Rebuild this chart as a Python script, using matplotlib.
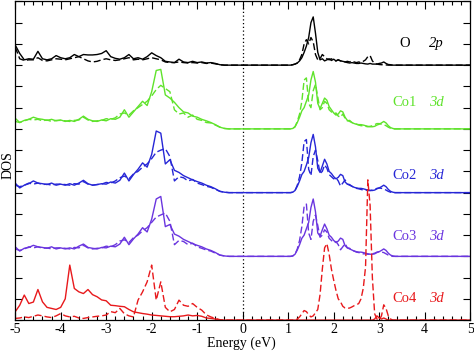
import numpy as np
import matplotlib
matplotlib.use("Agg")
import matplotlib.pyplot as plt

plt.rcParams['font.family'] = ['Liberation Serif', 'DejaVu Serif']

# energy grids (eV): valence band on 0.1 steps, conduction band on 0.05 steps
e_vb = np.round(np.arange(-5.0, -0.25, 0.1), 2)
e_cb = np.round(np.arange(1.0, 3.51, 0.05), 2)

# O 2p (offset 12)
o_solid_vb = [0.95, 0.55, 0.25, 0.30, 0.28, 0.65, 0.30, 0.25, 0.30, 0.45,
              0.35, 0.30, 0.35, 0.50, 0.40, 0.50, 0.48, 0.48, 0.50, 0.55,
              0.68, 0.40, 0.32, 0.28, 0.35, 0.50, 0.30, 0.35, 0.28, 0.40,
              0.58, 0.45, 0.35, 0.18, 0.15, 0.12, 0.28, 0.15, 0.12, 0.18,
              0.12, 0.15, 0.10, 0.12, 0.08, 0.02, 0.00, 0.00]
o_dash_vb = [0.85, 0.30, 0.22, 0.25, 0.25, 0.35, 0.22, 0.20, 0.25, 0.30,
             0.28, 0.25, 0.30, 0.35, 0.40, 0.30, 0.20, 0.15, 0.18, 0.25,
             0.30, 0.25, 0.22, 0.25, 0.30, 0.35, 0.25, 0.28, 0.25, 0.30,
             0.35, 0.30, 0.25, 0.15, 0.12, 0.12, 0.15, 0.12, 0.10, 0.12,
             0.10, 0.12, 0.08, 0.10, 0.06, 0.02, 0.00, 0.00]
o_solid_cb = [0.00, 0.00, 0.02, 0.05, 0.10, 0.20, 0.35, 0.60, 0.90, 1.30,
              2.00, 2.27, 1.50, 0.60, 0.25, 0.30, 0.20, 0.25, 0.30, 0.22,
              0.28, 0.20, 0.25, 0.20, 0.18, 0.15, 0.12, 0.10, 0.12, 0.10,
              0.08, 0.08, 0.10, 0.08, 0.06, 0.05, 0.08, 0.05, 0.05, 0.05,
              0.08, 0.10, 0.15, 0.08, 0.03, 0.02, 0.00, 0.00, 0.00, 0.00,
              0.00]
o_dash_cb = [0.00, 0.00, 0.02, 0.05, 0.10, 0.25, 0.50, 1.00, 1.20, 1.00,
             1.30, 1.10, 0.50, 0.25, 0.30, 0.50, 0.40, 0.30, 0.25, 0.30,
             0.22, 0.20, 0.25, 0.20, 0.22, 0.15, 0.18, 0.15, 0.20, 0.15,
             0.12, 0.15, 0.12, 0.18, 0.25, 0.40, 0.45, 0.20, 0.08, 0.05,
             0.03, 0.02, 0.02, 0.01, 0.00, 0.00, 0.00, 0.00, 0.00, 0.00,
             0.00]

# Co1 3d (offset 9)
co1_solid_vb = [0.50, 0.30, 0.40, 0.45, 0.55, 0.48, 0.45, 0.40, 0.45, 0.38,
                0.42, 0.35, 0.40, 0.35, 0.45, 0.60, 0.45, 0.38, 0.35, 0.42,
                0.38, 0.48, 0.45, 0.55, 0.90, 0.55, 0.80, 1.05, 1.30, 1.10,
                1.75, 2.75, 2.80, 1.60, 1.45, 1.25, 1.00, 0.80, 0.75, 0.60,
                0.55, 0.45, 0.38, 0.30, 0.20, 0.08, 0.02, 0.00]
co1_dash_vb = [0.35, 0.30, 0.38, 0.45, 0.42, 0.45, 0.38, 0.42, 0.35, 0.40,
               0.40, 0.38, 0.35, 0.40, 0.42, 0.55, 0.42, 0.35, 0.38, 0.40,
               0.48, 0.45, 0.52, 0.70, 0.75, 0.65, 0.85, 1.00, 1.15, 1.30,
               1.55, 1.85, 2.05, 1.90, 1.75, 0.90, 0.70, 0.75, 0.55, 0.65,
               0.45, 0.40, 0.30, 0.28, 0.18, 0.08, 0.02, 0.00]
co1_solid_cb = [0.00, 0.00, 0.02, 0.10, 0.30, 0.55, 0.85, 1.00, 1.30, 1.60,
                2.30, 2.70, 2.20, 1.20, 0.95, 1.20, 1.45, 1.35, 1.05, 0.90,
                0.75, 0.65, 0.70, 0.85, 0.80, 0.55, 0.40, 0.35, 0.30, 0.25,
                0.22, 0.20, 0.20, 0.18, 0.15, 0.12, 0.10, 0.10, 0.12, 0.18,
                0.22, 0.28, 0.35, 0.28, 0.15, 0.06, 0.02, 0.00, 0.00, 0.00,
                0.00]
co1_dash_cb = [0.00, 0.00, 0.02, 0.10, 0.35, 0.70, 1.30, 2.30, 2.40, 1.20,
               1.00, 1.80, 2.10, 1.50, 0.90, 1.00, 1.30, 1.20, 0.90, 0.80,
               0.70, 0.75, 0.60, 0.55, 0.70, 0.50, 0.38, 0.40, 0.30, 0.25,
               0.22, 0.18, 0.15, 0.15, 0.12, 0.10, 0.12, 0.15, 0.20, 0.25,
               0.25, 0.22, 0.20, 0.15, 0.08, 0.03, 0.00, 0.00, 0.00, 0.00,
               0.00]

# Co2 3d (offset 6)
co2_solid_vb = [0.45, 0.22, 0.35, 0.42, 0.55, 0.45, 0.42, 0.38, 0.45, 0.35,
                0.40, 0.35, 0.42, 0.35, 0.45, 0.58, 0.42, 0.35, 0.38, 0.42,
                0.40, 0.50, 0.45, 0.58, 0.92, 0.55, 0.85, 1.10, 1.40, 1.20,
                1.80, 2.90, 2.80, 1.35, 1.55, 1.05, 0.95, 0.80, 0.70, 0.60,
                0.52, 0.45, 0.35, 0.28, 0.18, 0.06, 0.02, 0.00]
co2_dash_vb = [0.35, 0.28, 0.35, 0.45, 0.40, 0.45, 0.38, 0.40, 0.35, 0.40,
               0.40, 0.38, 0.35, 0.42, 0.40, 0.52, 0.40, 0.35, 0.38, 0.40,
               0.48, 0.45, 0.55, 0.70, 0.78, 0.65, 0.88, 1.00, 1.20, 1.35,
               1.60, 1.90, 2.00, 2.07, 1.70, 0.55, 0.75, 0.70, 0.55, 0.62,
               0.45, 0.38, 0.30, 0.25, 0.15, 0.06, 0.02, 0.00]
co2_solid_cb = [0.00, 0.00, 0.02, 0.10, 0.30, 0.55, 0.85, 1.00, 1.30, 1.65,
                2.35, 2.74, 2.15, 1.15, 0.95, 1.25, 1.57, 1.35, 1.00, 0.90,
                0.75, 0.65, 0.72, 0.86, 0.80, 0.50, 0.40, 0.35, 0.30, 0.25,
                0.22, 0.20, 0.20, 0.18, 0.15, 0.12, 0.10, 0.10, 0.12, 0.18,
                0.22, 0.28, 0.35, 0.28, 0.15, 0.06, 0.02, 0.00, 0.00, 0.00,
                0.00]
co2_dash_cb = [0.00, 0.00, 0.02, 0.10, 0.35, 0.75, 1.40, 2.40, 2.50, 1.10,
               0.80, 1.70, 2.00, 1.50, 0.90, 1.00, 1.30, 1.15, 0.85, 0.75,
               0.65, 0.70, 0.55, 0.31, 0.45, 0.60, 0.40, 0.38, 0.30, 0.25,
               0.20, 0.18, 0.15, 0.12, 0.12, 0.10, 0.10, 0.12, 0.15, 0.20,
               0.22, 0.20, 0.18, 0.12, 0.06, 0.02, 0.00, 0.00, 0.00, 0.00,
               0.00]

# Co3 3d (offset 3)
co3_solid_vb = [0.45, 0.25, 0.38, 0.42, 0.52, 0.45, 0.42, 0.38, 0.45, 0.35,
                0.40, 0.35, 0.40, 0.35, 0.48, 0.58, 0.42, 0.38, 0.35, 0.42,
                0.40, 0.48, 0.45, 0.58, 0.90, 0.55, 0.82, 1.05, 1.35, 1.15,
                1.75, 2.70, 2.82, 1.40, 1.50, 1.05, 0.95, 0.80, 0.70, 0.60,
                0.52, 0.45, 0.35, 0.28, 0.18, 0.06, 0.02, 0.00]
co3_dash_vb = [0.35, 0.28, 0.35, 0.45, 0.40, 0.45, 0.38, 0.40, 0.35, 0.40,
               0.40, 0.38, 0.35, 0.42, 0.40, 0.52, 0.40, 0.35, 0.38, 0.40,
               0.48, 0.45, 0.55, 0.72, 0.78, 0.65, 0.88, 1.00, 1.20, 1.35,
               1.60, 1.85, 1.95, 2.04, 1.65, 0.55, 0.75, 0.70, 0.55, 0.62,
               0.45, 0.38, 0.30, 0.25, 0.15, 0.06, 0.02, 0.00]
co3_solid_cb = [0.00, 0.00, 0.02, 0.10, 0.30, 0.55, 0.85, 1.00, 1.30, 1.60,
                2.30, 2.70, 2.10, 1.10, 0.95, 1.25, 1.52, 1.30, 1.00, 0.90,
                0.75, 0.65, 0.72, 0.86, 0.80, 0.50, 0.40, 0.35, 0.30, 0.25,
                0.22, 0.20, 0.20, 0.18, 0.15, 0.12, 0.10, 0.10, 0.12, 0.18,
                0.22, 0.28, 0.35, 0.28, 0.15, 0.06, 0.02, 0.00, 0.00, 0.00,
                0.00]
co3_dash_cb = [0.00, 0.00, 0.02, 0.10, 0.35, 0.75, 1.40, 2.35, 2.46, 1.10,
               0.80, 1.65, 1.95, 1.45, 0.90, 1.00, 1.25, 1.15, 0.85, 0.75,
               0.65, 0.70, 0.55, 0.31, 0.45, 0.60, 0.40, 0.38, 0.30, 0.25,
               0.20, 0.18, 0.15, 0.12, 0.12, 0.10, 0.10, 0.12, 0.15, 0.20,
               0.22, 0.20, 0.18, 0.12, 0.06, 0.02, 0.00, 0.00, 0.00, 0.00,
               0.00]

# Co4 3d (offset 0)
co4_solid_vb = [0.39, 0.70, 1.18, 0.78, 0.85, 1.44, 0.86, 0.60, 0.55, 0.50,
                0.60, 1.00, 2.59, 1.49, 1.33, 1.25, 1.44, 1.20, 1.10, 0.95,
                0.91, 0.70, 0.68, 0.65, 0.63, 0.50, 0.39, 0.35, 0.31, 0.28,
                0.24, 0.22, 0.20, 0.18, 0.16, 0.16, 0.18, 0.20, 0.24, 0.20,
                0.22, 0.18, 0.10, 0.08, 0.05, 0.00, 0.00, 0.00]
co4_dash_vb = [0.08, 0.10, 0.15, 0.12, 0.18, 0.24, 0.20, 0.15, 0.12, 0.20,
               0.31, 0.20, 0.15, 0.18, 0.10, 0.08, 0.12, 0.15, 0.18, 0.20,
               0.24, 0.40, 0.35, 0.55, 0.30, 0.20, 0.15, 0.94, 1.33, 1.80,
               2.59, 0.94, 1.80, 0.60, 0.39, 0.50, 0.94, 0.70, 0.65, 0.78,
               0.60, 0.47, 0.25, 0.15, 0.08, 0.02, 0.00, 0.00]
co4_solid_cb = [0.00, 0.00, 0.00, 0.00, 0.00, 0.00, 0.00, 0.00, 0.00, 0.00,
                0.00, 0.00, 0.00, 0.00, 0.00, 0.00, 0.00, 0.00, 0.00, 0.00,
                0.00, 0.00, 0.00, 0.00, 0.00, 0.00, 0.00, 0.00, 0.00, 0.00,
                0.00, 0.00, 0.00, 0.00, 0.00, 0.00, 0.00, 0.00, 0.05, 0.20,
                0.10, 0.05, 0.10, 0.05, 0.00, 0.00, 0.00, 0.00, 0.00, 0.00,
                0.00]
co4_dash_cb = [0.00, 0.00, 0.00, 0.00, 0.05, 0.15, 0.30, 0.45, 0.40, 0.25,
               0.15, 0.20, 0.35, 0.50, 1.20, 2.40, 3.40, 3.60, 3.10, 2.40,
               1.88, 1.40, 1.00, 0.86, 0.65, 0.57, 0.55, 0.57, 0.62, 0.68,
               0.72, 0.78, 1.00, 1.50, 2.50, 6.60, 5.40, 2.00, 0.30, 0.05,
               0.00, 0.20, 0.72, 0.55, 0.20, 0.05, 0.00, 0.00, 0.00, 0.00,
               0.00]

labels = [("O", "2p"), ("Co1", "3d"), ("Co2", "3d"), ("Co3", "3d"), ("Co4", "3d")]
offsets = [12, 9, 6, 3, 0]
label_y = [13.0, 10.25, 6.8, 3.95, 1.0]
colors = ['black', '#5fe32b', '#2626d6', '#6a35df', '#e8191c']
solids = [(o_solid_vb, o_solid_cb), (co1_solid_vb, co1_solid_cb),
          (co2_solid_vb, co2_solid_cb), (co3_solid_vb, co3_solid_cb),
          (co4_solid_vb, co4_solid_cb)]
dashes = [(o_dash_vb, o_dash_cb), (co1_dash_vb, co1_dash_cb),
          (co2_dash_vb, co2_dash_cb), (co3_dash_vb, co3_dash_cb),
          (co4_dash_vb, co4_dash_cb)]

energy = np.concatenate([e_vb, e_cb, [5.0]])

fig = plt.figure(figsize=(4.74, 3.51), dpi=100)
ax = fig.add_axes([0.032, 0.088, 0.960, 0.908])

ax.axvline(0, color='black', linestyle=(0, (1, 2)), linewidth=0.9)

for (sv, sc), (dv, dc), off, c in zip(solids, dashes, offsets, colors):
    ys = np.concatenate([sv, sc, [0.0]]) + off
    yd = np.concatenate([dv, dc, [0.0]]) + off
    ax.plot(energy, ys, color=c, linewidth=1.0)
    ax.plot(energy, yd, color=c, linewidth=1.0, linestyle=(0, (5, 2.2)))

for (name, orb), ly, c in zip(labels, label_y, colors):
    ax.text(3.55, ly, name, color=c, fontsize=10.5, ha='center', va='center')
    ax.text(4.25, ly, orb, color=c, fontsize=10.5, ha='center', va='center',
            style='italic')

ax.set_xlim(-5, 5)
ax.set_ylim(0, 15)
ax.set_xticks(np.arange(-5, 6, 1))
ax.set_xticks(np.arange(-5, 5.01, 0.2), minor=True)
ax.set_yticks(np.arange(0, 16, 1))
ax.set_yticklabels([])
ax.tick_params(axis='x', which='major', direction='in', top=True, length=6,
               width=0.8, labelsize=10, pad=2)
ax.tick_params(axis='x', which='minor', direction='in', top=True, length=3,
               width=0.8)
ax.tick_params(axis='y', which='major', direction='in', right=True, length=5,
               width=0.8)
ax.set_xticklabels([str(v) for v in range(-5, 6)])
for s in ax.spines.values():
    s.set_linewidth(0.9)

fig.text(0.51, 0.004, "Energy (eV)", fontsize=10, ha='center', va='bottom')
fig.text(0.003, 0.53, "DOS", fontsize=10, rotation=90, ha='left', va='center')

fig.savefig("out.png", dpi=100)
